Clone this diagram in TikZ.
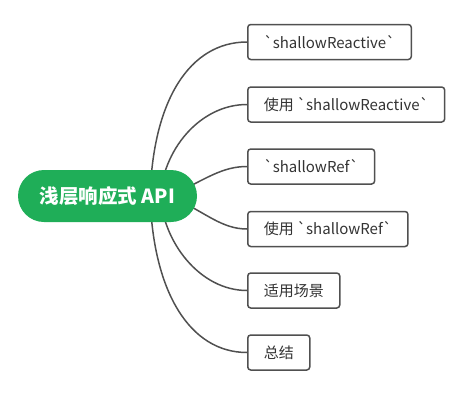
\documentclass[tikz,border=0pt]{standalone}
\usepackage{fontspec}
\newfontfamily\cjk{Noto Sans CJK SC}
\usetikzlibrary{positioning}
\definecolor{hubgreen}{HTML}{1FAE58}
\definecolor{linegray}{HTML}{505050}
\definecolor{textgray}{HTML}{333333}
\tikzset{
  hub/.style={fill=hubgreen, text=white, rounded corners=26pt, minimum width=179pt,
    minimum height=52pt, font=\cjk\fontsize{19.5}{21}\selectfont\bfseries},
  topic/.style={draw=linegray, line width=1.5pt, rounded corners=3pt, anchor=west,
    minimum height=35pt, inner xsep=16pt, text=textgray, font=\cjk\fontsize{15}{17}\selectfont},
  branch/.style={draw=linegray, line width=1.5pt}
}
\begin{document}
\begin{tikzpicture}[x=1pt, y=-1pt]
    \useasboundingbox (0,0) rectangle (474,402);
    % topics
    \node[topic] (T1) at (247,42) {\textasciigrave shallowReactive\textasciigrave};
    \node[topic] (T2) at (247,104.5) {使用 \textasciigrave shallowReactive\textasciigrave};
    \node[topic] (T3) at (247,166.5) {\textasciigrave shallowRef\textasciigrave};
    \node[topic] (T4) at (247,229) {使用 \textasciigrave shallowRef\textasciigrave};
    \node[topic] (T5) at (247,290.5) {适用场景};
    \node[topic] (T6) at (247,352.5) {总结};
    % branch start points
    \coordinate (S1) at (150,200);
    \coordinate (S2) at (160,200);
    \coordinate (S3) at (176,193);
    \coordinate (S4) at (176,199);
    \coordinate (S5) at (160,192);
    \coordinate (S6) at (150,192);
    \draw[branch] (S1) .. controls +(2,-100) and +(-57,0) .. (T1.west);
    \draw[branch] (S2) .. controls +(2,-50) and +(-47,0) .. (T2.west);
    \draw[branch] (S3) .. controls +(30,-14) and +(-25,0) .. (T3.west);
    \draw[branch] (S4) .. controls +(30,14) and +(-25,0) .. (T4.west);
    \draw[branch] (S5) .. controls +(2,50) and +(-47,0) .. (T5.west);
    \draw[branch] (S6) .. controls +(2,100) and +(-57,0) .. (T6.west);
    % central topic
    \node[hub] (H) at (107.5,196) {浅层响应式 API};
\end{tikzpicture}
\end{document}
